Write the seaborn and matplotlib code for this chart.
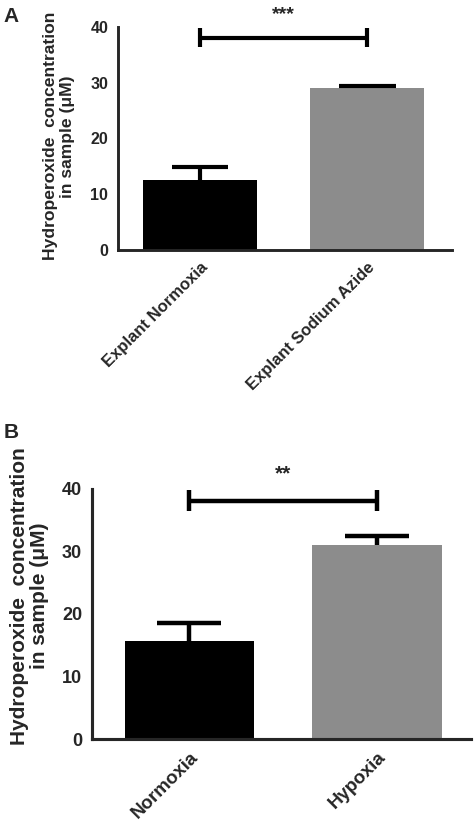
import seaborn as sns
import matplotlib.pyplot as plt
import pandas as pd

# panel A
groups_a = ['Explant Normoxia', 'Explant Sodium Azide']
means_a = [12.5, 29.0]
errs_a = [2.3, 0.5]
stars_a = '***'

# panel B
groups_b = ['Normoxia', 'Hypoxia']
means_b = [15.7, 31.0]
errs_b = [2.9, 1.5]
stars_b = '**'

bar_colors = ['#000000', '#8c8c8c']
ylabel = 'Hydroperoxide  concentration\nin sample (\u03bcM)'


def panel(ax, groups, means, errs, stars, fs, xfs, yfs, sfs, lw, width, xlim, lxy):
    df = pd.DataFrame({'group': groups, 'value': means})
    sns.barplot(data=df, x='group', y='value', hue='group', palette=bar_colors,
                width=width, legend=False, ax=ax, edgecolor='none')
    # upper error bars only
    for i, (m, e) in enumerate(zip(means, errs)):
        ax.plot([i, i], [m, m + e], color='black', lw=lw, solid_capstyle='butt')
        ax.plot([i - 0.17, i + 0.17], [m + e, m + e], color='black', lw=lw,
                solid_capstyle='butt')
    # significance bracket
    ax.plot([0, 1], [38, 38], color='black', lw=lw, solid_capstyle='butt')
    for i in (0, 1):
        ax.plot([i, i], [36.4, 39.8], color='black', lw=lw, solid_capstyle='butt')
    ax.text(0.5, 42.3, stars, ha='center', va='center', fontsize=sfs,
            fontweight='bold', clip_on=False)
    ax.set_ylim(0, 40)
    ax.set_xlim(*xlim)
    ax.set_yticks([0, 10, 20, 30, 40])
    ax.set_xlabel('')
    ax.set_ylabel(ylabel, fontsize=yfs, fontweight='bold', linespacing=1.1)
    ax.yaxis.set_label_coords(*lxy)
    ax.tick_params(axis='both', width=lw * 0.7, length=5, labelsize=fs,
                   direction='out', pad=2)
    for lab in ax.get_yticklabels():
        lab.set_fontweight('bold')
    ax.set_xticks([0, 1])
    ax.set_xticklabels(groups, rotation=45, ha='right', rotation_mode='anchor',
                       fontweight='bold', fontsize=xfs)
    for s in ('top', 'right'):
        ax.spines[s].set_visible(False)
    for s in ('left', 'bottom'):
        ax.spines[s].set_linewidth(lw * 0.7)


sns.set_style('white')
plt.rcParams['font.family'] = ['Liberation Sans', 'DejaVu Sans']

fig = plt.figure(figsize=(4.74, 8.27), dpi=100)
ax_a = fig.add_axes([0.249, 0.6977, 0.705, 0.2697])
ax_b = fig.add_axes([0.194, 0.1064, 0.80, 0.3026])

panel(ax_a, groups_a, means_a, errs_a, stars_a, 11.5, 12, 12.6, 14, 3.0, 0.683,
      (-0.491, 1.509), (-0.13, 0.51))
panel(ax_b, groups_b, means_b, errs_b, stars_b, 13, 13.5, 15, 15, 3.2, 0.69,
      (-0.519, 1.503), (-0.112, 0.571))

fig.text(0.008, 0.992, 'A', fontsize=15, fontweight='bold', va='top')
fig.text(0.008, 0.489, 'B', fontsize=15, fontweight='bold', va='top')

fig.savefig('out.png', dpi=100)
